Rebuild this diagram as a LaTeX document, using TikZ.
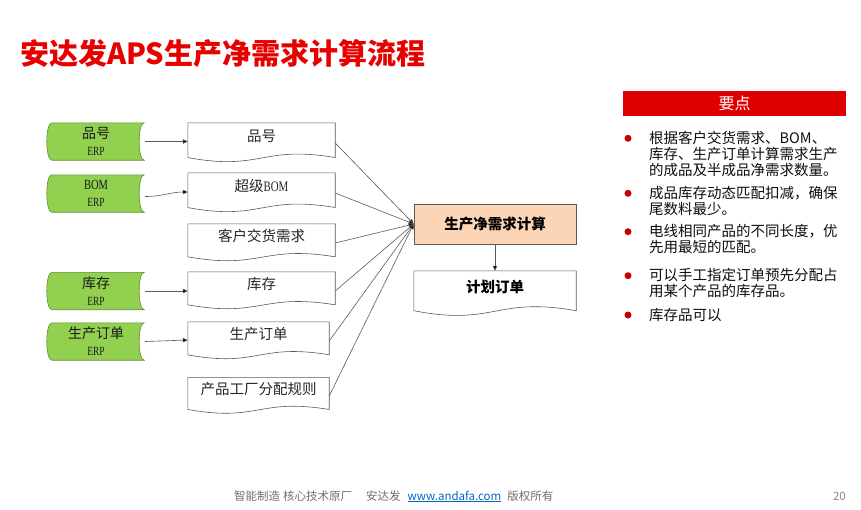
\documentclass[tikz,border=0pt]{standalone}
\usepackage{fontspec}
\setmainfont{Liberation Serif}
\newfontfamily\cjk{Noto Sans CJK SC}
\newfontfamily\simlatin{Liberation Serif}[FakeStretch=0.75]
\usetikzlibrary{arrows.meta,calc,backgrounds}
\definecolor{titlered}{RGB}{230,0,0}
\definecolor{hdrred}{RGB}{222,0,0}
\definecolor{dotred}{RGB}{200,0,0}
\definecolor{gfill}{RGB}{146,208,80}
\definecolor{gline}{RGB}{96,140,50}
\definecolor{peach}{RGB}{251,213,181}
\definecolor{lgray}{RGB}{90,90,90}
\definecolor{footgray}{RGB}{110,110,110}
\definecolor{urlblue}{RGB}{5,99,193}
\newcommand\greenshape[1]{%
  \filldraw[fill=gfill,draw=gline,line width=0.6pt]
    ([xshift=5pt]#1.north west) .. controls ([xshift=-1.7pt]#1.north west) and ([xshift=-1.7pt]#1.south west) .. ([xshift=5pt]#1.south west)
    -- ([xshift=-1pt]#1.south east) .. controls ([xshift=-7.7pt]#1.south east) and ([xshift=-7.7pt]#1.north east) .. ([xshift=-1pt]#1.north east) -- cycle;}
\newcommand\docshape[2]{%
  \filldraw[fill=#2,draw=lgray,line width=0.6pt] let \p1=(#1.north west), \p2=(#1.south east) in
    (\x1,\y1) -- (\x2,\y1) -- (\x2,{\y1+0.86*(\y2-\y1)})
    .. controls ({0.5*(\x1+\x2)},{\y1+0.55*(\y2-\y1)}) and ({0.5*(\x1+\x2)},{\y1+1.2*(\y2-\y1)}) ..
    (\x1,{\y1+0.86*(\y2-\y1)}) -- cycle;}
\begin{document}
\begin{tikzpicture}[x=1pt,y=-1pt,
  gbox/.style={minimum width=98pt,minimum height=37pt,inner sep=0pt,align=center,text=black!90,font=\fontsize{14}{17}\selectfont},
  docbox/.style={minimum width=147pt,inner sep=0pt,text=black!85,font=\cjk\fontsize{14.5}{16}\selectfont,text height=10pt,text depth=14pt},
  cbox/.style={minimum width=162pt,minimum height=40pt,inner sep=0pt,fill=peach,draw=lgray,line width=0.6pt,text=black,font=\cjk\bfseries\fontsize{14.5}{16}\selectfont},
  conn/.style={draw=lgray,line width=0.6pt,arrows={-{Triangle[length=5pt,width=4.5pt,fill=black]}}},
  bullettext/.style={anchor=north west,align=left,inner sep=0pt,text=black!95,font=\cjk\fontsize{14.5}{16}\selectfont},
  bdot/.style={circle,fill=dotred,inner sep=0pt,minimum size=7pt}]
\useasboundingbox (0,0) rectangle (861,509);
% title
\node[anchor=base west,inner sep=0pt,text=titlered,font=\cjk\bfseries\fontsize{29}{29}\selectfont] (title) at (20,64) {安达发APS生产净需求计算流程};
% green sources
\node[gbox] (g1) at (96,141.5) {{\cjk 品号}\\{\simlatin\fontsize{12.5}{12.5}\selectfont ERP}};
\node[gbox] (g2) at (96,193.5) {{\simlatin BOM}\\{\simlatin\fontsize{12.5}{12.5}\selectfont ERP}};
\node[gbox] (g3) at (96,291) {{\cjk 库存}\\{\simlatin\fontsize{12.5}{12.5}\selectfont ERP}};
\node[gbox] (g4) at (96,341.5) {{\cjk 生产订单}\\{\simlatin\fontsize{12.5}{12.5}\selectfont ERP}};
% documents
\node[docbox,minimum height=40pt] (d1) at (261.5,143) {品号};
\node[docbox,minimum height=40pt] (d2) at (261.5,193) {超级{\simlatin BOM}};
\node[docbox,minimum height=38pt] (d3) at (261.5,243) {客户交货需求};
\node[docbox,minimum height=38pt] (d4) at (261.5,291) {库存};
\node[docbox,minimum height=38pt,minimum width=141pt] (d5) at (258.5,341) {生产订单};
\node[docbox,minimum height=37pt,minimum width=141pt] (d6) at (258.5,396) {产品工厂分配规则};
% center
\node[cbox] (c) at (495,224) {生产净需求计算};
\node[docbox,minimum height=46pt,minimum width=162pt,font=\cjk\bfseries\fontsize{14.5}{16}\selectfont,text=black] (p) at (495,294) {计划订单};
\begin{scope}[on background layer]
  \foreach \g in {g1,g2,g3,g4} {\greenshape{\g}}
  \foreach \d in {d1,d2,d3,d4,d5,d6,p} {\docshape{\d}{white}}
\end{scope}
% connectors
\draw[conn] (g1.east) -- (g1.east -| d1.west);
\draw[conn] ([yshift=-3pt]g2.east) to[out=0,in=180] ([yshift=1pt]d2.west);
\draw[conn] (g3.east) -- (g3.east -| d4.west);
\draw[conn] (g4.east) -- ([yshift=1pt]d5.west);
\foreach \d in {d1,d2,d3,d4,d5,d6} {\draw[conn] (\d.east) -- (c.west);}
\draw[conn] (c.south) -- (p.north);
% right panel
\node[fill=hdrred,minimum width=223pt,minimum height=25pt,inner sep=0pt,text=white,font=\cjk\fontsize{16}{16}\selectfont] (hdr) at (734.5,103.5) {要点};
\node[bdot] (k1) at (628,138.3) {};
\node[bullettext] (b1) at (649,131) {根据客户交货需求、BOM、\\库存、生产订单计算需求生产\\的成品及半成品净需求数量。};
\node[bdot] (k2) at (628,193.3) {};
\node[bullettext] (b2) at (649,186) {成品库存动态匹配扣减，确保\\尾数料最少。};
\node[bdot] (k3) at (628,231.7) {};
\node[bullettext] (b3) at (649,224.4) {电线相同产品的不同长度，优\\先用最短的匹配。};
\node[bdot] (k4) at (628,275.7) {};
\node[bullettext] (b4) at (649,268.4) {可以手工指定订单预先分配占\\用某个产品的库存品。};
\node[bdot] (k5) at (628,315) {};
\node[bullettext] (b5) at (649,307.7) {库存品可以};
% footer
\node[anchor=base west,inner sep=0pt,text=footgray,font=\cjk\fontsize{11.5}{12}\selectfont] (foot) at (234,500) {智能制造\hspace{3pt}核心技术原厂\hspace{14pt}安达发\hspace{7pt}{\color{urlblue}\underline{www.andafa.com}}\hspace{6pt}版权所有};
\node[anchor=base east,inner sep=0pt,text=footgray!80,font=\cjk\fontsize{11.5}{12}\selectfont] (pg) at (846,500) {20};
\end{tikzpicture}
\end{document}
